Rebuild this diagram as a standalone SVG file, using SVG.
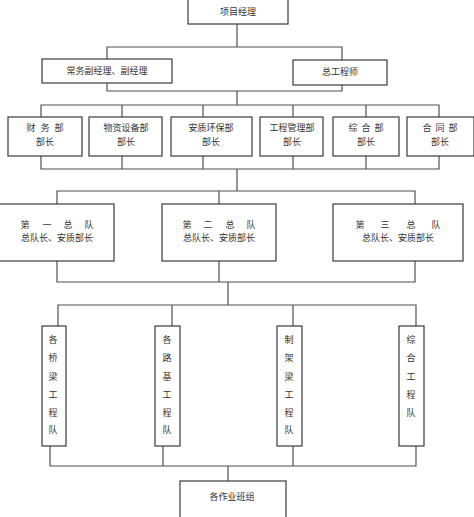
<svg xmlns="http://www.w3.org/2000/svg" width="474" height="517" viewBox="0 0 474 517">
<style>
rect{fill:#fff;stroke:#3a3a3a;stroke-width:1.2}
.c line,.c path{stroke:#505050;stroke-width:1.2;fill:none}
text{font-family:"Liberation Serif","Noto Sans CJK SC",serif;font-size:9px;fill:#333;text-anchor:middle}
</style>
<rect x="0" y="0" width="474" height="517" style="stroke:none"/>
<g class="c" id="connectors">
<line x1="237" y1="24" x2="237" y2="47"/>
<path d="M107,59 V47 H342 V60"/>
<path d="M107,83 V91 H342 V85"/>
<line x1="237" y1="91" x2="237" y2="105"/>
<path d="M41,117 V105 H439 V117"/>
<line x1="122" y1="105" x2="122" y2="117"/>
<line x1="203" y1="105" x2="203" y2="117"/>
<line x1="293" y1="105" x2="293" y2="117"/>
<line x1="366" y1="105" x2="366" y2="117"/>
<path d="M41,156 V169 H439 V156"/>
<line x1="122" y1="156" x2="122" y2="169"/>
<line x1="203" y1="156" x2="203" y2="169"/>
<line x1="293" y1="156" x2="293" y2="169"/>
<line x1="366" y1="156" x2="366" y2="169"/>
<line x1="237" y1="169" x2="237" y2="191"/>
<path d="M57,204 V191 H415 V204"/>
<line x1="219" y1="191" x2="219" y2="204"/>
<path d="M57,261 V282 H415 V261"/>
<line x1="219" y1="261" x2="219" y2="282"/>
<line x1="228" y1="282" x2="228" y2="305"/>
<path d="M58,326 V305 H416 V326"/>
<line x1="172" y1="305" x2="172" y2="326"/>
<line x1="293" y1="305" x2="293" y2="326"/>
<path d="M50,446 V466 H416 V446"/>
<line x1="163" y1="446" x2="163" y2="466"/>
<line x1="293" y1="446" x2="293" y2="466"/>
<line x1="228" y1="466" x2="228" y2="481"/>
</g>
<g id="pm"><rect x="188" y="-2" width="100" height="26"/><text x="238" y="15">项目经理</text></g>
<g id="deputy"><rect x="42" y="59" width="130" height="24"/><text x="107" y="74">常务副经理、副经理</text></g>
<g id="chief"><rect x="293" y="60" width="94" height="25"/><text x="340" y="75">总工程师</text></g>
<g id="d1"><rect x="8" y="117" width="74" height="39"/><text x="31 45 59" y="131">财务部</text><text x="45" y="145">部长</text></g>
<g id="d2"><rect x="89" y="117" width="73" height="39"/><text x="126" y="131">物资设备部</text><text x="126" y="145">部长</text></g>
<g id="d3"><rect x="171" y="117" width="81" height="39"/><text x="211" y="131">安质环保部</text><text x="211" y="145">部长</text></g>
<g id="d4"><rect x="260" y="117" width="63" height="39"/><text x="292" y="131">工程管理部</text><text x="292" y="145">部长</text></g>
<g id="d5"><rect x="333" y="117" width="66" height="39"/><text x="353 366 379" y="131">综合部</text><text x="366" y="145">部长</text></g>
<g id="d6"><rect x="407" y="117" width="67" height="39"/><text x="427 440 453" y="131">合同部</text><text x="440" y="145">部长</text></g>
<g id="t1"><rect x="-2" y="204" width="116" height="57"/><text x="25 47 68 89" y="228">第一总队</text><text x="57" y="241">总队长、安质部长</text></g>
<g id="t2"><rect x="162" y="204" width="114" height="57"/><text x="187 208 230 251" y="228">第二总队</text><text x="219" y="241">总队长、安质部长</text></g>
<g id="t3"><rect x="333" y="204" width="130" height="57"/><text x="360 385 411 436" y="228">第三总队</text><text x="398" y="241">总队长、安质部长</text></g>
<g id="q1"><rect x="42" y="326" width="24" height="120"/><text x="53" y="343">各</text><text x="53" y="361">桥</text><text x="53" y="380">梁</text><text x="53" y="398">工</text><text x="53" y="416">程</text><text x="53" y="433">队</text></g>
<g id="q2"><rect x="155" y="326" width="25" height="120"/><text x="167" y="343">各</text><text x="167" y="361">路</text><text x="167" y="380">基</text><text x="167" y="398">工</text><text x="167" y="416">程</text><text x="167" y="433">队</text></g>
<g id="q3"><rect x="277" y="326" width="25" height="120"/><text x="289" y="343">制</text><text x="289" y="361">架</text><text x="289" y="380">梁</text><text x="289" y="398">工</text><text x="289" y="416">程</text><text x="289" y="433">队</text></g>
<g id="q4"><rect x="399" y="326" width="25" height="120"/><text x="411" y="343">综</text><text x="411" y="361">合</text><text x="411" y="380">工</text><text x="411" y="398">程</text><text x="411" y="416">队</text></g>
<g id="crew"><rect x="180" y="481" width="106" height="38"/><text x="232" y="500">各作业班组</text></g>
</svg>
